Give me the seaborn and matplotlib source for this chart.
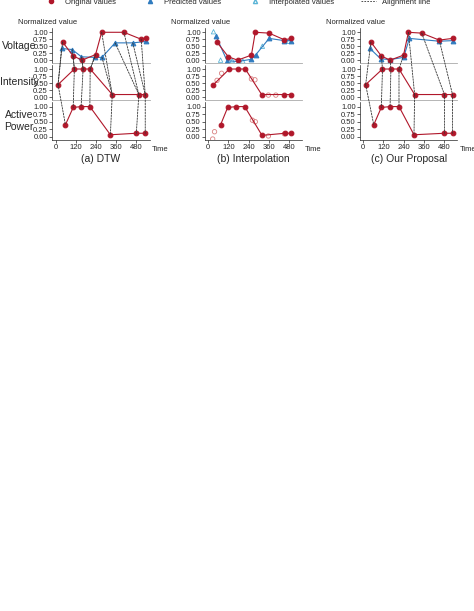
import numpy as np
import pandas as pd
import matplotlib
matplotlib.use("Agg")
import matplotlib.pyplot as plt
from matplotlib.patches import ConnectionPatch
from matplotlib.lines import Line2D
import seaborn as sns

sns.set_style("ticks")
plt.rcParams['font.family'] = ['Liberation Sans', 'DejaVu Sans']

RED = '#b0172a'
BLUE = '#2f7bbf'

# (a) DTW
a_volt_t = [42, 105, 158, 238, 274, 406, 509, 537]
a_volt_v = [0.65, 0.15, 0.0, 0.2, 1.0, 1.0, 0.75, 0.8]
a_pred_t = [36, 99, 154, 232, 276, 354, 459, 537]
a_pred_v = [0.42, 0.38, 0.12, 0.1, 0.1, 0.62, 0.62, 0.67]
a_int_t = [15, 112, 164, 206, 337, 495, 533]
a_int_v = [0.45, 1.0, 1.0, 1.0, 0.1, 0.1, 0.1]
a_pow_t = [59, 105, 152, 204, 326, 480, 533]
a_pow_v = [0.4, 0.97, 1.0, 1.0, 0.07, 0.12, 0.12]

# (b) Interpolation
b_volt_t = [52, 120, 175, 257, 280, 362, 453, 495]
b_volt_v = [0.65, 0.12, 0.0, 0.18, 1.0, 0.97, 0.73, 0.78]
b_pred_t = [48, 112, 175, 257, 284, 362, 453, 495]
b_pred_v = [0.85, -0.02, -0.05, 0.03, 0.2, 0.78, 0.7, 0.7]
b_vint_t = [32, 74, 143, 206, 322, 480]
b_vint_v = [1.02, 0.0, -0.02, -0.03, 0.5, 0.68]
b_int_t = [27, 126, 175, 221, 318, 449, 491]
b_int_v = [0.42, 1.0, 1.0, 1.0, 0.1, 0.1, 0.1]
b_iint_t = [53, 80, 257, 278, 358, 402]
b_iint_v = [0.6, 0.85, 0.65, 0.62, 0.08, 0.08]
b_pow_t = [74, 116, 168, 217, 320, 457, 491]
b_pow_v = [0.4, 0.97, 1.0, 1.0, 0.05, 0.12, 0.12]
b_pint_t = [27, 38, 263, 280, 358, 453]
b_pint_v = [-0.07, 0.17, 0.55, 0.5, 0.03, 0.1]

# (c) Our proposal
c_volt_t = [46, 108, 160, 240, 269, 348, 452, 531]
c_volt_v = [0.65, 0.15, 0.0, 0.18, 1.0, 0.97, 0.72, 0.78]
c_pred_t = [40, 104, 160, 240, 275, 452, 531]
c_pred_v = [0.42, 0.05, 0.02, 0.1, 0.78, 0.68, 0.7]
c_int_t = [15, 115, 165, 213, 306, 483, 531]
c_int_v = [0.45, 1.0, 1.0, 1.0, 0.1, 0.1, 0.1]
c_pow_t = [63, 108, 160, 213, 302, 483, 531]
c_pow_v = [0.4, 0.97, 1.0, 1.0, 0.07, 0.12, 0.12]

ticks = [0, 120, 240, 360, 480]
yticks = [0.0, 0.25, 0.5, 0.75, 1.0]
row_names = ['Voltage', 'Intensity', 'Active\nPower']
captions = ['(a) DTW', '(b) Interpolation', '(c) Our Proposal']

fig = plt.figure(figsize=(4.74, 6.11), dpi=100)
lefts = [0.110, 0.432, 0.759]
rows = [(0.897, 0.057), (0.836, 0.058), (0.771, 0.062)]
fs = 5.5


def line(ax, t, v, color, marker):
    sns.lineplot(x=t, y=v, ax=ax, color=color, marker=marker, markersize=3.4,
                 markeredgecolor=color, linewidth=0.8, sort=False)


def align(ax1, t1, v1, ax2, t2, v2):
    for x1, y1, x2, y2 in zip(t1, v1, t2, v2):
        cp = ConnectionPatch((x1, y1), (x2, y2), 'data', 'data', axesA=ax1, axesB=ax2,
                             color='#333333', linestyle=(0, (2, 1.5)), linewidth=0.6)
        fig.add_artist(cp)


all_axes = []
for p in range(3):
    axs = []
    for r, (y0, h) in enumerate(rows):
        ax = fig.add_axes([lefts[p], y0, 0.206, h])
        ax.set_xlim(-20, 560)
        ax.set_ylim(-0.1, 1.15)
        ax.set_yticks(yticks)
        ax.set_yticklabels(['%.2f' % y for y in yticks], fontsize=fs)
        ax.set_xticks(ticks)
        ax.tick_params(length=2, width=0.5, pad=1)
        for s in ['top', 'right']:
            ax.spines[s].set_visible(False)
        ax.spines['left'].set_linewidth(0.5)
        if r < 2:
            ax.spines['bottom'].set_color('#aaaaaa')
            ax.spines['bottom'].set_linewidth(0.6)
            ax.tick_params(axis='x', length=0, labelbottom=False)
        else:
            ax.spines['bottom'].set_linewidth(0.5)
            ax.set_xticklabels([str(t) for t in ticks], fontsize=fs)
            ax.text(1.02, -0.16, 'Time', transform=ax.transAxes, fontsize=fs, va='top')
        if p == 0:
            ax.text(-0.34, 0.5, row_names[r], transform=ax.transAxes, fontsize=7.5,
                    ha='center', va='center')
        axs.append(ax)
    axs[0].text(-0.35, 1.12, 'Normalized value', transform=axs[0].transAxes, fontsize=fs)
    axs[2].text(0.5, -0.36, captions[p], transform=axs[2].transAxes, fontsize=7.5, ha='center', va='top')
    all_axes.append(axs)

# DTW panel
ax0, ax1, ax2 = all_axes[0]
line(ax0, a_pred_t, a_pred_v, BLUE, '^')
line(ax0, a_volt_t, a_volt_v, RED, 'o')
line(ax1, a_int_t, a_int_v, RED, 'o')
line(ax2, a_pow_t, a_pow_v, RED, 'o')
align(ax0, a_volt_t[:7], a_volt_v[:7], ax1, a_int_t, a_int_v)
align(ax0, a_pred_t[:7], a_pred_v[:7], ax1, a_int_t, a_int_v)
align(ax1, a_int_t, a_int_v, ax2, a_pow_t, a_pow_v)

# Interpolation panel
ax0, ax1, ax2 = all_axes[1]
line(ax0, b_pred_t, b_pred_v, BLUE, '^')
line(ax0, b_volt_t, b_volt_v, RED, 'o')
ax0.scatter(b_vint_t, b_vint_v, marker='^', s=10, facecolors='none', edgecolors='#5ab4d6', linewidths=0.6)
line(ax1, b_int_t, b_int_v, RED, 'o')
ax1.scatter(b_iint_t, b_iint_v, marker='o', s=10, facecolors='none', edgecolors='#d98080', linewidths=0.6)
line(ax2, b_pow_t, b_pow_v, RED, 'o')
ax2.scatter(b_pint_t, b_pint_v, marker='o', s=10, facecolors='none', edgecolors='#d98080', linewidths=0.6)

# Proposal panel
ax0, ax1, ax2 = all_axes[2]
line(ax0, c_pred_t, c_pred_v, BLUE, '^')
line(ax0, c_volt_t, c_volt_v, RED, 'o')
line(ax1, c_int_t, c_int_v, RED, 'o')
line(ax2, c_pow_t, c_pow_v, RED, 'o')
align(ax0, c_volt_t[:7], c_volt_v[:7], ax1, c_int_t, c_int_v)
align(ax1, c_int_t, c_int_v, ax2, c_pow_t, c_pow_v)

handles = [
    Line2D([], [], color=RED, marker='o', markersize=3, linestyle='none'),
    Line2D([], [], color=BLUE, marker='^', markersize=3, linestyle='none'),
    Line2D([], [], color='#5ab4d6', marker='^', markersize=3, markerfacecolor='none', linestyle='none'),
    Line2D([], [], color='#333333', linestyle=(0, (2, 1.5)), linewidth=0.6),
]
fig.legend(handles, ['Original values', 'Predicted values', 'Interpolated values', 'Alignment line'],
           loc='upper center', bbox_to_anchor=(0.5, 1.014), ncol=4, fontsize=fs, frameon=False,
           columnspacing=3.5, handlelength=2)

fig.savefig('out.png', dpi=100)
